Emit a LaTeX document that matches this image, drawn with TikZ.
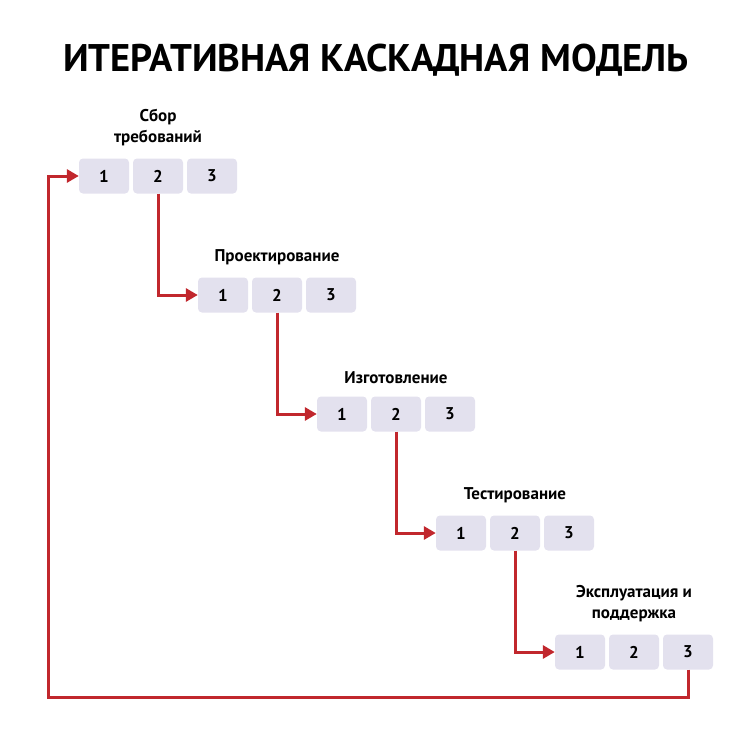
\documentclass[tikz,border=0pt]{standalone}
\usepackage{fontspec}
\setmainfont{PT Sans}
\usetikzlibrary{arrows.meta}
\definecolor{boxc}{HTML}{E3E1EE}
\definecolor{redc}{HTML}{C1272D}
\tikzset{
  cell/.style={fill=boxc,rounded corners=4pt,minimum width=50pt,minimum height=35pt,inner sep=0pt,font=\bfseries\fontsize{17}{18}\selectfont},
  lbl/.style={font=\bfseries\fontsize{17}{21}\selectfont,align=center,anchor=south},
  link/.style={draw=redc,line width=3pt,-{Triangle[length=12pt,width=13pt]}}
}
\begin{document}
\begin{tikzpicture}[x=1pt,y=-1pt]
\useasboundingbox (0,0) rectangle (751,749);
\node[font=\bfseries\fontsize{38.5}{42}\selectfont] (title) at (376,60) {ИТЕРАТИВНАЯ КАСКАДНАЯ МОДЕЛЬ};
\foreach \i/\t in {1/{Сбор\\требований},2/{Проектирование},3/{Изготовление},4/{Тестирование},5/{Эксплуатация и\\поддержка}}{
  \pgfmathsetmacro{\x}{104+119*(\i-1)}
  \pgfmathsetmacro{\y}{176+119*(\i-1)}
  \node[cell] (g\i a) at (\x,\y) {1};
  \node[cell] (g\i b) at (\x+54,\y) {2};
  \node[cell] (g\i c) at (\x+108,\y) {3};
  \node[lbl] (l\i) at ([yshift=9pt]g\i b.north) {\t};
}
\foreach \i/\j in {1/2,2/3,3/4,4/5}{
  \draw[link] (g\i b.south) |- (g\j a.west);
}
\coordinate (c1) at ([yshift=-28pt]g5c.south);
\coordinate (c2) at (48,0);
\draw[link] (g5c.south) -- (c1) -- (c2 |- c1) -- (c2 |- g1a.west) -- (g1a.west);
\end{tikzpicture}
\end{document}
